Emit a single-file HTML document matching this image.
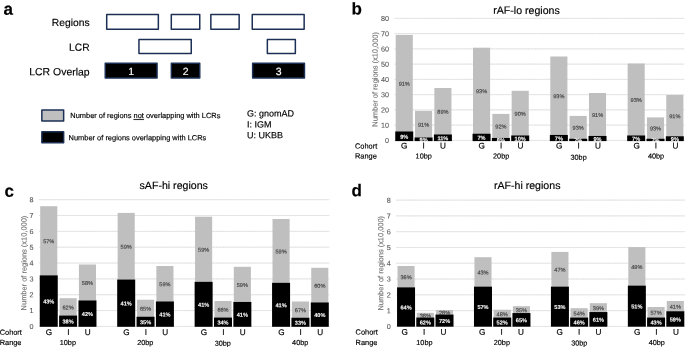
<!DOCTYPE html>
<html><head><meta charset="utf-8"><title>Figure</title>
<style>
html,body{margin:0;padding:0;background:#fff;}
body{width:685px;height:347px;overflow:hidden;}
svg{display:block;font-family:"Liberation Sans", Arial, sans-serif;}
</style></head><body>
<svg width="685" height="347" viewBox="0 0 685 347">
<rect x="0" y="0" width="685" height="347" fill="#ffffff"/>
<text x="3.50" y="14.85" transform="rotate(0.05,3.50,14.85)" font-size="17" fill="#000" stroke="#000" stroke-width="0.16" text-anchor="start" font-weight="bold" >a</text>
<text x="89.60" y="26.00" transform="rotate(0.05,89.60,26.00)" font-size="10.3" fill="#000" stroke="#000" stroke-width="0.16" text-anchor="end" font-weight="normal" >Regions</text>
<text x="89.60" y="50.80" transform="rotate(0.05,89.60,50.80)" font-size="10.3" fill="#000" stroke="#000" stroke-width="0.16" text-anchor="end" font-weight="normal" >LCR</text>
<text x="89.60" y="75.40" transform="rotate(0.05,89.60,75.40)" font-size="10.45" fill="#000" stroke="#000" stroke-width="0.16" text-anchor="end" font-weight="normal" >LCR Overlap</text>
<rect x="106.70" y="14.50" width="51.65" height="14.80" fill="#fff" stroke="#1c3055" stroke-width="1.5" stroke-linejoin="round"/>
<rect x="171.30" y="14.50" width="28.45" height="14.80" fill="#fff" stroke="#1c3055" stroke-width="1.5" stroke-linejoin="round"/>
<rect x="210.85" y="14.50" width="28.30" height="14.80" fill="#fff" stroke="#1c3055" stroke-width="1.5" stroke-linejoin="round"/>
<rect x="252.25" y="14.50" width="51.90" height="14.80" fill="#fff" stroke="#1c3055" stroke-width="1.5" stroke-linejoin="round"/>
<rect x="138.95" y="39.45" width="52.30" height="14.00" fill="#fff" stroke="#1c3055" stroke-width="1.5" stroke-linejoin="round"/>
<rect x="267.35" y="39.45" width="28.00" height="14.00" fill="#fff" stroke="#1c3055" stroke-width="1.5" stroke-linejoin="round"/>
<rect x="105.25" y="63.25" width="51.80" height="14.80" fill="#000" stroke="#1c3055" stroke-width="1.5" stroke-linejoin="round"/>
<text x="131.15" y="75.00" transform="rotate(0.05,131.15,75.00)" font-size="10.5" fill="#fff" stroke="#fff" stroke-width="0.16" text-anchor="middle" font-weight="normal" >1</text>
<rect x="171.35" y="63.25" width="28.40" height="14.80" fill="#000" stroke="#1c3055" stroke-width="1.5" stroke-linejoin="round"/>
<text x="185.55" y="75.00" transform="rotate(0.05,185.55,75.00)" font-size="10.5" fill="#fff" stroke="#fff" stroke-width="0.16" text-anchor="middle" font-weight="normal" >2</text>
<rect x="252.65" y="63.25" width="51.80" height="14.80" fill="#000" stroke="#1c3055" stroke-width="1.5" stroke-linejoin="round"/>
<text x="278.55" y="75.00" transform="rotate(0.05,278.55,75.00)" font-size="10.5" fill="#fff" stroke="#fff" stroke-width="0.16" text-anchor="middle" font-weight="normal" >3</text>
<rect x="41.85" y="110.05" width="21.80" height="11.00" fill="#bfbfbf" stroke="#1c3055" stroke-width="1.5" stroke-linejoin="round"/>
<rect x="41.85" y="131.75" width="21.80" height="11.00" fill="#000" stroke="#1c3055" stroke-width="1.5" stroke-linejoin="round"/>
<text x="70.30" y="118.00" transform="rotate(0.05,70.30,118.00)" font-size="7.45" fill="#000" stroke="#000" stroke-width="0.16" text-anchor="start" font-weight="normal" >Number of regions <tspan text-decoration="underline">not</tspan> overlapping with LCRs</text>
<text x="68.60" y="140.20" transform="rotate(0.05,68.60,140.20)" font-size="7.45" fill="#000" stroke="#000" stroke-width="0.16" text-anchor="start" font-weight="normal" >Number of regions overlapping with LCRs</text>
<text x="246.90" y="116.50" transform="rotate(0.05,246.90,116.50)" font-size="9" fill="#000" stroke="#000" stroke-width="0.16" text-anchor="start" font-weight="normal" >G: gnomAD</text>
<text x="246.90" y="127.45" transform="rotate(0.05,246.90,127.45)" font-size="9" fill="#000" stroke="#000" stroke-width="0.16" text-anchor="start" font-weight="normal" >I: IGM</text>
<text x="246.90" y="138.30" transform="rotate(0.05,246.90,138.30)" font-size="9" fill="#000" stroke="#000" stroke-width="0.16" text-anchor="start" font-weight="normal" >U: UKBB</text>
<text x="351.60" y="14.40" transform="rotate(0.05,351.60,14.40)" font-size="17" fill="#000" stroke="#000" stroke-width="0.16" text-anchor="start" font-weight="bold" >b</text>
<text x="526.50" y="13.90" transform="rotate(0.05,526.50,13.90)" font-size="10.6" fill="#000" stroke="#000" stroke-width="0.16" text-anchor="middle" font-weight="normal" >rAF-lo regions</text>
<line x1="394.60" x2="684.50" y1="140.40" y2="140.40" stroke="#e8e8e8" stroke-width="0.75"/>
<line x1="394.60" x2="684.50" y1="140.40" y2="140.40" stroke="#dedede" stroke-width="0.75" stroke-dasharray="2.2 0.7"/>
<text x="388.90" y="142.98" transform="rotate(0.05,388.90,142.98)" font-size="7.2" fill="#595959" stroke="#595959" stroke-width="0.1" text-anchor="end" font-weight="normal" >0</text>
<line x1="394.60" x2="684.50" y1="125.14" y2="125.14" stroke="#e8e8e8" stroke-width="0.75"/>
<line x1="394.60" x2="684.50" y1="125.14" y2="125.14" stroke="#dedede" stroke-width="0.75" stroke-dasharray="2.2 0.7"/>
<text x="388.90" y="127.72" transform="rotate(0.05,388.90,127.72)" font-size="7.2" fill="#595959" stroke="#595959" stroke-width="0.1" text-anchor="end" font-weight="normal" >10</text>
<line x1="394.60" x2="684.50" y1="109.89" y2="109.89" stroke="#e8e8e8" stroke-width="0.75"/>
<line x1="394.60" x2="684.50" y1="109.89" y2="109.89" stroke="#dedede" stroke-width="0.75" stroke-dasharray="2.2 0.7"/>
<text x="388.90" y="112.47" transform="rotate(0.05,388.90,112.47)" font-size="7.2" fill="#595959" stroke="#595959" stroke-width="0.1" text-anchor="end" font-weight="normal" >20</text>
<line x1="394.60" x2="684.50" y1="94.63" y2="94.63" stroke="#e8e8e8" stroke-width="0.75"/>
<line x1="394.60" x2="684.50" y1="94.63" y2="94.63" stroke="#dedede" stroke-width="0.75" stroke-dasharray="2.2 0.7"/>
<text x="388.90" y="97.21" transform="rotate(0.05,388.90,97.21)" font-size="7.2" fill="#595959" stroke="#595959" stroke-width="0.1" text-anchor="end" font-weight="normal" >30</text>
<line x1="394.60" x2="684.50" y1="79.38" y2="79.38" stroke="#e8e8e8" stroke-width="0.75"/>
<line x1="394.60" x2="684.50" y1="79.38" y2="79.38" stroke="#dedede" stroke-width="0.75" stroke-dasharray="2.2 0.7"/>
<text x="388.90" y="81.95" transform="rotate(0.05,388.90,81.95)" font-size="7.2" fill="#595959" stroke="#595959" stroke-width="0.1" text-anchor="end" font-weight="normal" >40</text>
<line x1="394.60" x2="684.50" y1="64.12" y2="64.12" stroke="#e8e8e8" stroke-width="0.75"/>
<line x1="394.60" x2="684.50" y1="64.12" y2="64.12" stroke="#dedede" stroke-width="0.75" stroke-dasharray="2.2 0.7"/>
<text x="388.90" y="66.70" transform="rotate(0.05,388.90,66.70)" font-size="7.2" fill="#595959" stroke="#595959" stroke-width="0.1" text-anchor="end" font-weight="normal" >50</text>
<line x1="394.60" x2="684.50" y1="48.86" y2="48.86" stroke="#e8e8e8" stroke-width="0.75"/>
<line x1="394.60" x2="684.50" y1="48.86" y2="48.86" stroke="#dedede" stroke-width="0.75" stroke-dasharray="2.2 0.7"/>
<text x="388.90" y="51.44" transform="rotate(0.05,388.90,51.44)" font-size="7.2" fill="#595959" stroke="#595959" stroke-width="0.1" text-anchor="end" font-weight="normal" >60</text>
<line x1="394.60" x2="684.50" y1="33.61" y2="33.61" stroke="#e8e8e8" stroke-width="0.75"/>
<line x1="394.60" x2="684.50" y1="33.61" y2="33.61" stroke="#dedede" stroke-width="0.75" stroke-dasharray="2.2 0.7"/>
<text x="388.90" y="36.19" transform="rotate(0.05,388.90,36.19)" font-size="7.2" fill="#595959" stroke="#595959" stroke-width="0.1" text-anchor="end" font-weight="normal" >70</text>
<line x1="394.60" x2="684.50" y1="18.35" y2="18.35" stroke="#e8e8e8" stroke-width="0.75"/>
<line x1="394.60" x2="684.50" y1="18.35" y2="18.35" stroke="#dedede" stroke-width="0.75" stroke-dasharray="2.2 0.7"/>
<text x="388.90" y="20.93" transform="rotate(0.05,388.90,20.93)" font-size="7.2" fill="#595959" stroke="#595959" stroke-width="0.1" text-anchor="end" font-weight="normal" >80</text>
<text transform="translate(377.60,79.38) rotate(-89.95)" font-size="7.45" fill="#727272" stroke="#727272" stroke-width="0.12" text-anchor="middle">Number of regions (x10,000)</text>
<rect x="395.70" y="34.90" width="17.10" height="96.80" fill="#bfbfbf"/>
<rect x="395.25" y="131.45" width="18.00" height="9.65" fill="#000"/>
<text x="404.25" y="85.70" transform="rotate(0.05,404.25,85.70)" font-size="5.6" fill="#404040" stroke="#404040" stroke-width="0.15" text-anchor="middle" font-weight="normal" >91%</text>
<text x="404.25" y="138.70" transform="rotate(0.05,404.25,138.70)" font-size="5.6" fill="#fff" stroke="#fff" stroke-width="0.1" text-anchor="middle" font-weight="bold" >9%</text>
<text x="404.30" y="148.60" transform="rotate(0.05,404.30,148.60)" font-size="8.2" fill="#000" stroke="#000" stroke-width="0.16" text-anchor="middle" font-weight="normal" >G</text>
<rect x="415.03" y="110.90" width="17.10" height="26.80" fill="#bfbfbf"/>
<rect x="414.58" y="137.45" width="18.00" height="3.65" fill="#000"/>
<text x="423.58" y="126.70" transform="rotate(0.05,423.58,126.70)" font-size="5.6" fill="#404040" stroke="#404040" stroke-width="0.15" text-anchor="middle" font-weight="normal" >91%</text>
<text x="423.58" y="141.70" transform="rotate(0.05,423.58,141.70)" font-size="5.6" fill="#fff" stroke="#fff" stroke-width="0.1" text-anchor="middle" font-weight="bold" >9%</text>
<text x="423.66" y="148.60" transform="rotate(0.05,423.66,148.60)" font-size="8.2" fill="#000" stroke="#000" stroke-width="0.16" text-anchor="middle" font-weight="normal" >I</text>
<rect x="434.35" y="88.00" width="17.10" height="46.70" fill="#bfbfbf"/>
<rect x="433.90" y="134.45" width="18.00" height="6.65" fill="#000"/>
<text x="442.90" y="113.75" transform="rotate(0.05,442.90,113.75)" font-size="5.6" fill="#404040" stroke="#404040" stroke-width="0.15" text-anchor="middle" font-weight="normal" >89%</text>
<text x="442.90" y="140.20" transform="rotate(0.05,442.90,140.20)" font-size="5.6" fill="#fff" stroke="#fff" stroke-width="0.1" text-anchor="middle" font-weight="bold" >11%</text>
<text x="443.02" y="148.60" transform="rotate(0.05,443.02,148.60)" font-size="8.2" fill="#000" stroke="#000" stroke-width="0.16" text-anchor="middle" font-weight="normal" >U</text>
<text x="423.70" y="158.60" transform="rotate(0.05,423.70,158.60)" font-size="7.3" fill="#000" stroke="#000" stroke-width="0.16" text-anchor="middle" font-weight="normal" >10bp</text>
<rect x="473.01" y="47.70" width="17.10" height="86.30" fill="#bfbfbf"/>
<rect x="472.56" y="133.75" width="18.00" height="7.35" fill="#000"/>
<text x="481.56" y="93.25" transform="rotate(0.05,481.56,93.25)" font-size="5.6" fill="#404040" stroke="#404040" stroke-width="0.15" text-anchor="middle" font-weight="normal" >93%</text>
<text x="481.56" y="139.85" transform="rotate(0.05,481.56,139.85)" font-size="5.6" fill="#fff" stroke="#fff" stroke-width="0.1" text-anchor="middle" font-weight="bold" >7%</text>
<text x="481.74" y="148.60" transform="rotate(0.05,481.74,148.60)" font-size="8.2" fill="#000" stroke="#000" stroke-width="0.16" text-anchor="middle" font-weight="normal" >G</text>
<rect x="492.33" y="113.90" width="17.10" height="24.30" fill="#bfbfbf"/>
<rect x="491.88" y="137.95" width="18.00" height="3.15" fill="#000"/>
<text x="500.88" y="128.45" transform="rotate(0.05,500.88,128.45)" font-size="5.6" fill="#404040" stroke="#404040" stroke-width="0.15" text-anchor="middle" font-weight="normal" >92%</text>
<text x="500.88" y="141.95" transform="rotate(0.05,500.88,141.95)" font-size="5.6" fill="#fff" stroke="#fff" stroke-width="0.1" text-anchor="middle" font-weight="bold" >8%</text>
<text x="501.10" y="148.60" transform="rotate(0.05,501.10,148.60)" font-size="8.2" fill="#000" stroke="#000" stroke-width="0.16" text-anchor="middle" font-weight="normal" >I</text>
<rect x="511.66" y="90.80" width="17.10" height="44.90" fill="#bfbfbf"/>
<rect x="511.21" y="135.45" width="18.00" height="5.65" fill="#000"/>
<text x="520.21" y="115.65" transform="rotate(0.05,520.21,115.65)" font-size="5.6" fill="#404040" stroke="#404040" stroke-width="0.15" text-anchor="middle" font-weight="normal" >90%</text>
<text x="520.21" y="140.70" transform="rotate(0.05,520.21,140.70)" font-size="5.6" fill="#fff" stroke="#fff" stroke-width="0.1" text-anchor="middle" font-weight="bold" >10%</text>
<text x="520.46" y="148.60" transform="rotate(0.05,520.46,148.60)" font-size="8.2" fill="#000" stroke="#000" stroke-width="0.16" text-anchor="middle" font-weight="normal" >U</text>
<text x="501.15" y="158.60" transform="rotate(0.05,501.15,158.60)" font-size="7.3" fill="#000" stroke="#000" stroke-width="0.16" text-anchor="middle" font-weight="normal" >20bp</text>
<rect x="550.31" y="56.50" width="17.10" height="78.70" fill="#bfbfbf"/>
<rect x="549.86" y="134.95" width="18.00" height="6.15" fill="#000"/>
<text x="558.86" y="98.25" transform="rotate(0.05,558.86,98.25)" font-size="5.6" fill="#404040" stroke="#404040" stroke-width="0.15" text-anchor="middle" font-weight="normal" >93%</text>
<text x="558.86" y="140.45" transform="rotate(0.05,558.86,140.45)" font-size="5.6" fill="#fff" stroke="#fff" stroke-width="0.1" text-anchor="middle" font-weight="bold" >7%</text>
<text x="559.18" y="148.60" transform="rotate(0.05,559.18,148.60)" font-size="8.2" fill="#000" stroke="#000" stroke-width="0.16" text-anchor="middle" font-weight="normal" >G</text>
<rect x="569.64" y="115.90" width="17.10" height="23.10" fill="#bfbfbf"/>
<rect x="569.19" y="138.75" width="18.00" height="2.35" fill="#000"/>
<text x="578.19" y="129.85" transform="rotate(0.05,578.19,129.85)" font-size="5.6" fill="#404040" stroke="#404040" stroke-width="0.15" text-anchor="middle" font-weight="normal" >93%</text>
<text x="578.19" y="142.35" transform="rotate(0.05,578.19,142.35)" font-size="5.6" fill="#fff" stroke="#fff" stroke-width="0.1" text-anchor="middle" font-weight="bold" >7%</text>
<text x="578.54" y="148.60" transform="rotate(0.05,578.54,148.60)" font-size="8.2" fill="#000" stroke="#000" stroke-width="0.16" text-anchor="middle" font-weight="normal" >I</text>
<rect x="588.97" y="93.00" width="17.10" height="43.20" fill="#bfbfbf"/>
<rect x="588.52" y="135.95" width="18.00" height="5.15" fill="#000"/>
<text x="597.52" y="117.00" transform="rotate(0.05,597.52,117.00)" font-size="5.6" fill="#404040" stroke="#404040" stroke-width="0.15" text-anchor="middle" font-weight="normal" >91%</text>
<text x="597.52" y="140.95" transform="rotate(0.05,597.52,140.95)" font-size="5.6" fill="#fff" stroke="#fff" stroke-width="0.1" text-anchor="middle" font-weight="bold" >9%</text>
<text x="597.90" y="148.60" transform="rotate(0.05,597.90,148.60)" font-size="8.2" fill="#000" stroke="#000" stroke-width="0.16" text-anchor="middle" font-weight="normal" >U</text>
<text x="578.60" y="159.80" transform="rotate(0.05,578.60,159.80)" font-size="7.3" fill="#000" stroke="#000" stroke-width="0.16" text-anchor="middle" font-weight="normal" >30bp</text>
<rect x="627.62" y="63.50" width="17.10" height="72.20" fill="#bfbfbf"/>
<rect x="627.17" y="135.45" width="18.00" height="5.65" fill="#000"/>
<text x="636.17" y="102.00" transform="rotate(0.05,636.17,102.00)" font-size="5.6" fill="#404040" stroke="#404040" stroke-width="0.15" text-anchor="middle" font-weight="normal" >93%</text>
<text x="636.17" y="140.70" transform="rotate(0.05,636.17,140.70)" font-size="5.6" fill="#fff" stroke="#fff" stroke-width="0.1" text-anchor="middle" font-weight="bold" >7%</text>
<text x="636.62" y="148.60" transform="rotate(0.05,636.62,148.60)" font-size="8.2" fill="#000" stroke="#000" stroke-width="0.16" text-anchor="middle" font-weight="normal" >G</text>
<rect x="646.95" y="117.40" width="17.10" height="21.60" fill="#bfbfbf"/>
<rect x="646.50" y="138.75" width="18.00" height="2.35" fill="#000"/>
<text x="655.50" y="130.60" transform="rotate(0.05,655.50,130.60)" font-size="5.6" fill="#404040" stroke="#404040" stroke-width="0.15" text-anchor="middle" font-weight="normal" >93%</text>
<text x="655.50" y="142.35" transform="rotate(0.05,655.50,142.35)" font-size="5.6" fill="#fff" stroke="#fff" stroke-width="0.1" text-anchor="middle" font-weight="bold" >7%</text>
<text x="655.98" y="148.60" transform="rotate(0.05,655.98,148.60)" font-size="8.2" fill="#000" stroke="#000" stroke-width="0.16" text-anchor="middle" font-weight="normal" >I</text>
<rect x="666.27" y="95.00" width="17.10" height="41.50" fill="#bfbfbf"/>
<rect x="665.82" y="136.25" width="18.00" height="4.85" fill="#000"/>
<text x="674.82" y="118.15" transform="rotate(0.05,674.82,118.15)" font-size="5.6" fill="#404040" stroke="#404040" stroke-width="0.15" text-anchor="middle" font-weight="normal" >91%</text>
<text x="674.82" y="141.10" transform="rotate(0.05,674.82,141.10)" font-size="5.6" fill="#fff" stroke="#fff" stroke-width="0.1" text-anchor="middle" font-weight="bold" >9%</text>
<text x="675.34" y="148.60" transform="rotate(0.05,675.34,148.60)" font-size="8.2" fill="#000" stroke="#000" stroke-width="0.16" text-anchor="middle" font-weight="normal" >U</text>
<text x="656.05" y="158.60" transform="rotate(0.05,656.05,158.60)" font-size="7.3" fill="#000" stroke="#000" stroke-width="0.16" text-anchor="middle" font-weight="normal" >40bp</text>
<text x="355.00" y="148.40" transform="rotate(0.05,355.00,148.40)" font-size="7.4" fill="#000" stroke="#000" stroke-width="0.16" text-anchor="start" font-weight="normal" >Cohort</text>
<text x="355.00" y="158.60" transform="rotate(0.05,355.00,158.60)" font-size="7.4" fill="#000" stroke="#000" stroke-width="0.16" text-anchor="start" font-weight="normal" >Range</text>
<text x="4.40" y="196.70" transform="rotate(0.05,4.40,196.70)" font-size="17" fill="#000" stroke="#000" stroke-width="0.16" text-anchor="start" font-weight="bold" >c</text>
<text x="173.70" y="189.00" transform="rotate(0.05,173.70,189.00)" font-size="10.6" fill="#000" stroke="#000" stroke-width="0.16" text-anchor="middle" font-weight="normal" >sAF-hi regions</text>
<line x1="39.10" x2="329.50" y1="326.40" y2="326.40" stroke="#e8e8e8" stroke-width="0.75"/>
<line x1="39.10" x2="329.50" y1="326.40" y2="326.40" stroke="#dedede" stroke-width="0.75" stroke-dasharray="2.2 0.7"/>
<text x="33.40" y="328.98" transform="rotate(0.05,33.40,328.98)" font-size="7.2" fill="#595959" stroke="#595959" stroke-width="0.1" text-anchor="end" font-weight="normal" >0</text>
<line x1="39.10" x2="329.50" y1="310.56" y2="310.56" stroke="#e8e8e8" stroke-width="0.75"/>
<line x1="39.10" x2="329.50" y1="310.56" y2="310.56" stroke="#dedede" stroke-width="0.75" stroke-dasharray="2.2 0.7"/>
<text x="33.40" y="313.14" transform="rotate(0.05,33.40,313.14)" font-size="7.2" fill="#595959" stroke="#595959" stroke-width="0.1" text-anchor="end" font-weight="normal" >1</text>
<line x1="39.10" x2="329.50" y1="294.72" y2="294.72" stroke="#e8e8e8" stroke-width="0.75"/>
<line x1="39.10" x2="329.50" y1="294.72" y2="294.72" stroke="#dedede" stroke-width="0.75" stroke-dasharray="2.2 0.7"/>
<text x="33.40" y="297.30" transform="rotate(0.05,33.40,297.30)" font-size="7.2" fill="#595959" stroke="#595959" stroke-width="0.1" text-anchor="end" font-weight="normal" >2</text>
<line x1="39.10" x2="329.50" y1="278.89" y2="278.89" stroke="#e8e8e8" stroke-width="0.75"/>
<line x1="39.10" x2="329.50" y1="278.89" y2="278.89" stroke="#dedede" stroke-width="0.75" stroke-dasharray="2.2 0.7"/>
<text x="33.40" y="281.47" transform="rotate(0.05,33.40,281.47)" font-size="7.2" fill="#595959" stroke="#595959" stroke-width="0.1" text-anchor="end" font-weight="normal" >3</text>
<line x1="39.10" x2="329.50" y1="263.05" y2="263.05" stroke="#e8e8e8" stroke-width="0.75"/>
<line x1="39.10" x2="329.50" y1="263.05" y2="263.05" stroke="#dedede" stroke-width="0.75" stroke-dasharray="2.2 0.7"/>
<text x="33.40" y="265.63" transform="rotate(0.05,33.40,265.63)" font-size="7.2" fill="#595959" stroke="#595959" stroke-width="0.1" text-anchor="end" font-weight="normal" >4</text>
<line x1="39.10" x2="329.50" y1="247.21" y2="247.21" stroke="#e8e8e8" stroke-width="0.75"/>
<line x1="39.10" x2="329.50" y1="247.21" y2="247.21" stroke="#dedede" stroke-width="0.75" stroke-dasharray="2.2 0.7"/>
<text x="33.40" y="249.79" transform="rotate(0.05,33.40,249.79)" font-size="7.2" fill="#595959" stroke="#595959" stroke-width="0.1" text-anchor="end" font-weight="normal" >5</text>
<line x1="39.10" x2="329.50" y1="231.38" y2="231.38" stroke="#e8e8e8" stroke-width="0.75"/>
<line x1="39.10" x2="329.50" y1="231.38" y2="231.38" stroke="#dedede" stroke-width="0.75" stroke-dasharray="2.2 0.7"/>
<text x="33.40" y="233.96" transform="rotate(0.05,33.40,233.96)" font-size="7.2" fill="#595959" stroke="#595959" stroke-width="0.1" text-anchor="end" font-weight="normal" >6</text>
<line x1="39.10" x2="329.50" y1="215.54" y2="215.54" stroke="#e8e8e8" stroke-width="0.75"/>
<line x1="39.10" x2="329.50" y1="215.54" y2="215.54" stroke="#dedede" stroke-width="0.75" stroke-dasharray="2.2 0.7"/>
<text x="33.40" y="218.12" transform="rotate(0.05,33.40,218.12)" font-size="7.2" fill="#595959" stroke="#595959" stroke-width="0.1" text-anchor="end" font-weight="normal" >7</text>
<line x1="39.10" x2="329.50" y1="199.70" y2="199.70" stroke="#e8e8e8" stroke-width="0.75"/>
<line x1="39.10" x2="329.50" y1="199.70" y2="199.70" stroke="#dedede" stroke-width="0.75" stroke-dasharray="2.2 0.7"/>
<text x="33.40" y="202.28" transform="rotate(0.05,33.40,202.28)" font-size="7.2" fill="#595959" stroke="#595959" stroke-width="0.1" text-anchor="end" font-weight="normal" >8</text>
<text transform="translate(26.40,263.05) rotate(-89.95)" font-size="7.45" fill="#727272" stroke="#727272" stroke-width="0.12" text-anchor="middle">Number of regions (x10,000)</text>
<rect x="40.20" y="206.20" width="17.10" height="69.40" fill="#bfbfbf"/>
<rect x="39.75" y="275.35" width="18.00" height="51.45" fill="#000"/>
<text x="48.75" y="243.30" transform="rotate(0.05,48.75,243.30)" font-size="5.6" fill="#404040" stroke="#404040" stroke-width="0.15" text-anchor="middle" font-weight="normal" >57%</text>
<text x="48.75" y="303.50" transform="rotate(0.05,48.75,303.50)" font-size="5.6" fill="#fff" stroke="#fff" stroke-width="0.1" text-anchor="middle" font-weight="bold" >43%</text>
<text x="49.05" y="335.00" transform="rotate(0.05,49.05,335.00)" font-size="8.2" fill="#000" stroke="#000" stroke-width="0.16" text-anchor="middle" font-weight="normal" >G</text>
<rect x="59.56" y="298.20" width="17.10" height="17.60" fill="#bfbfbf"/>
<rect x="59.11" y="315.55" width="18.00" height="11.25" fill="#000"/>
<text x="68.11" y="309.40" transform="rotate(0.05,68.11,309.40)" font-size="5.6" fill="#404040" stroke="#404040" stroke-width="0.15" text-anchor="middle" font-weight="normal" >62%</text>
<text x="68.11" y="323.60" transform="rotate(0.05,68.11,323.60)" font-size="5.6" fill="#fff" stroke="#fff" stroke-width="0.1" text-anchor="middle" font-weight="bold" >38%</text>
<text x="68.41" y="335.00" transform="rotate(0.05,68.41,335.00)" font-size="8.2" fill="#000" stroke="#000" stroke-width="0.16" text-anchor="middle" font-weight="normal" >I</text>
<rect x="78.92" y="264.50" width="17.10" height="36.20" fill="#bfbfbf"/>
<rect x="78.47" y="300.45" width="18.00" height="26.35" fill="#000"/>
<text x="87.47" y="285.00" transform="rotate(0.05,87.47,285.00)" font-size="5.6" fill="#404040" stroke="#404040" stroke-width="0.15" text-anchor="middle" font-weight="normal" >58%</text>
<text x="87.47" y="316.05" transform="rotate(0.05,87.47,316.05)" font-size="5.6" fill="#fff" stroke="#fff" stroke-width="0.1" text-anchor="middle" font-weight="bold" >42%</text>
<text x="87.77" y="335.00" transform="rotate(0.05,87.77,335.00)" font-size="8.2" fill="#000" stroke="#000" stroke-width="0.16" text-anchor="middle" font-weight="normal" >U</text>
<text x="67.85" y="344.90" transform="rotate(0.05,67.85,344.90)" font-size="7.3" fill="#000" stroke="#000" stroke-width="0.16" text-anchor="middle" font-weight="normal" >10bp</text>
<rect x="117.64" y="212.90" width="17.10" height="66.90" fill="#bfbfbf"/>
<rect x="117.19" y="279.55" width="18.00" height="47.25" fill="#000"/>
<text x="126.19" y="248.75" transform="rotate(0.05,126.19,248.75)" font-size="5.6" fill="#404040" stroke="#404040" stroke-width="0.15" text-anchor="middle" font-weight="normal" >59%</text>
<text x="126.19" y="305.60" transform="rotate(0.05,126.19,305.60)" font-size="5.6" fill="#fff" stroke="#fff" stroke-width="0.1" text-anchor="middle" font-weight="bold" >41%</text>
<text x="126.49" y="335.00" transform="rotate(0.05,126.49,335.00)" font-size="8.2" fill="#000" stroke="#000" stroke-width="0.16" text-anchor="middle" font-weight="normal" >G</text>
<rect x="137.00" y="299.70" width="17.10" height="17.30" fill="#bfbfbf"/>
<rect x="136.55" y="316.75" width="18.00" height="10.05" fill="#000"/>
<text x="145.55" y="310.75" transform="rotate(0.05,145.55,310.75)" font-size="5.6" fill="#404040" stroke="#404040" stroke-width="0.15" text-anchor="middle" font-weight="normal" >65%</text>
<text x="145.55" y="324.20" transform="rotate(0.05,145.55,324.20)" font-size="5.6" fill="#fff" stroke="#fff" stroke-width="0.1" text-anchor="middle" font-weight="bold" >35%</text>
<text x="145.85" y="335.00" transform="rotate(0.05,145.85,335.00)" font-size="8.2" fill="#000" stroke="#000" stroke-width="0.16" text-anchor="middle" font-weight="normal" >I</text>
<rect x="156.36" y="266.00" width="17.10" height="35.70" fill="#bfbfbf"/>
<rect x="155.91" y="301.45" width="18.00" height="25.35" fill="#000"/>
<text x="164.91" y="286.25" transform="rotate(0.05,164.91,286.25)" font-size="5.6" fill="#404040" stroke="#404040" stroke-width="0.15" text-anchor="middle" font-weight="normal" >59%</text>
<text x="164.91" y="316.55" transform="rotate(0.05,164.91,316.55)" font-size="5.6" fill="#fff" stroke="#fff" stroke-width="0.1" text-anchor="middle" font-weight="bold" >41%</text>
<text x="165.21" y="335.00" transform="rotate(0.05,165.21,335.00)" font-size="8.2" fill="#000" stroke="#000" stroke-width="0.16" text-anchor="middle" font-weight="normal" >U</text>
<text x="145.30" y="344.90" transform="rotate(0.05,145.30,344.90)" font-size="7.3" fill="#000" stroke="#000" stroke-width="0.16" text-anchor="middle" font-weight="normal" >20bp</text>
<rect x="195.08" y="216.70" width="17.10" height="65.40" fill="#bfbfbf"/>
<rect x="194.63" y="281.85" width="18.00" height="44.95" fill="#000"/>
<text x="203.63" y="251.80" transform="rotate(0.05,203.63,251.80)" font-size="5.6" fill="#404040" stroke="#404040" stroke-width="0.15" text-anchor="middle" font-weight="normal" >59%</text>
<text x="203.63" y="306.75" transform="rotate(0.05,203.63,306.75)" font-size="5.6" fill="#fff" stroke="#fff" stroke-width="0.1" text-anchor="middle" font-weight="bold" >41%</text>
<text x="203.93" y="335.00" transform="rotate(0.05,203.93,335.00)" font-size="8.2" fill="#000" stroke="#000" stroke-width="0.16" text-anchor="middle" font-weight="normal" >G</text>
<rect x="214.44" y="301.00" width="17.10" height="16.80" fill="#bfbfbf"/>
<rect x="213.99" y="317.55" width="18.00" height="9.25" fill="#000"/>
<text x="222.99" y="311.80" transform="rotate(0.05,222.99,311.80)" font-size="5.6" fill="#404040" stroke="#404040" stroke-width="0.15" text-anchor="middle" font-weight="normal" >66%</text>
<text x="222.99" y="324.60" transform="rotate(0.05,222.99,324.60)" font-size="5.6" fill="#fff" stroke="#fff" stroke-width="0.1" text-anchor="middle" font-weight="bold" >34%</text>
<text x="223.29" y="335.00" transform="rotate(0.05,223.29,335.00)" font-size="8.2" fill="#000" stroke="#000" stroke-width="0.16" text-anchor="middle" font-weight="normal" >I</text>
<rect x="233.80" y="266.80" width="17.10" height="35.40" fill="#bfbfbf"/>
<rect x="233.35" y="301.95" width="18.00" height="24.85" fill="#000"/>
<text x="242.35" y="286.90" transform="rotate(0.05,242.35,286.90)" font-size="5.6" fill="#404040" stroke="#404040" stroke-width="0.15" text-anchor="middle" font-weight="normal" >59%</text>
<text x="242.35" y="316.80" transform="rotate(0.05,242.35,316.80)" font-size="5.6" fill="#fff" stroke="#fff" stroke-width="0.1" text-anchor="middle" font-weight="bold" >41%</text>
<text x="242.65" y="335.00" transform="rotate(0.05,242.65,335.00)" font-size="8.2" fill="#000" stroke="#000" stroke-width="0.16" text-anchor="middle" font-weight="normal" >U</text>
<text x="222.75" y="345.70" transform="rotate(0.05,222.75,345.70)" font-size="7.3" fill="#000" stroke="#000" stroke-width="0.16" text-anchor="middle" font-weight="normal" >30bp</text>
<rect x="272.52" y="219.00" width="17.10" height="64.10" fill="#bfbfbf"/>
<rect x="272.07" y="282.85" width="18.00" height="43.95" fill="#000"/>
<text x="281.07" y="253.45" transform="rotate(0.05,281.07,253.45)" font-size="5.6" fill="#404040" stroke="#404040" stroke-width="0.15" text-anchor="middle" font-weight="normal" >59%</text>
<text x="281.07" y="307.25" transform="rotate(0.05,281.07,307.25)" font-size="5.6" fill="#fff" stroke="#fff" stroke-width="0.1" text-anchor="middle" font-weight="bold" >41%</text>
<text x="281.37" y="335.00" transform="rotate(0.05,281.37,335.00)" font-size="8.2" fill="#000" stroke="#000" stroke-width="0.16" text-anchor="middle" font-weight="normal" >G</text>
<rect x="291.88" y="301.50" width="17.10" height="16.50" fill="#bfbfbf"/>
<rect x="291.43" y="317.75" width="18.00" height="9.05" fill="#000"/>
<text x="300.43" y="312.15" transform="rotate(0.05,300.43,312.15)" font-size="5.6" fill="#404040" stroke="#404040" stroke-width="0.15" text-anchor="middle" font-weight="normal" >67%</text>
<text x="300.43" y="324.70" transform="rotate(0.05,300.43,324.70)" font-size="5.6" fill="#fff" stroke="#fff" stroke-width="0.1" text-anchor="middle" font-weight="bold" >33%</text>
<text x="300.73" y="335.00" transform="rotate(0.05,300.73,335.00)" font-size="8.2" fill="#000" stroke="#000" stroke-width="0.16" text-anchor="middle" font-weight="normal" >I</text>
<rect x="311.24" y="267.80" width="17.10" height="34.90" fill="#bfbfbf"/>
<rect x="310.79" y="302.45" width="18.00" height="24.35" fill="#000"/>
<text x="319.79" y="287.65" transform="rotate(0.05,319.79,287.65)" font-size="5.6" fill="#404040" stroke="#404040" stroke-width="0.15" text-anchor="middle" font-weight="normal" >60%</text>
<text x="319.79" y="317.05" transform="rotate(0.05,319.79,317.05)" font-size="5.6" fill="#fff" stroke="#fff" stroke-width="0.1" text-anchor="middle" font-weight="bold" >40%</text>
<text x="320.09" y="335.00" transform="rotate(0.05,320.09,335.00)" font-size="8.2" fill="#000" stroke="#000" stroke-width="0.16" text-anchor="middle" font-weight="normal" >U</text>
<text x="300.20" y="344.90" transform="rotate(0.05,300.20,344.90)" font-size="7.3" fill="#000" stroke="#000" stroke-width="0.16" text-anchor="middle" font-weight="normal" >40bp</text>
<text x="-0.30" y="334.80" transform="rotate(0.05,-0.30,334.80)" font-size="7.4" fill="#000" stroke="#000" stroke-width="0.16" text-anchor="start" font-weight="normal" >Cohort</text>
<text x="-0.30" y="344.90" transform="rotate(0.05,-0.30,344.90)" font-size="7.4" fill="#000" stroke="#000" stroke-width="0.16" text-anchor="start" font-weight="normal" >Range</text>
<text x="351.60" y="196.20" transform="rotate(0.05,351.60,196.20)" font-size="17" fill="#000" stroke="#000" stroke-width="0.16" text-anchor="start" font-weight="bold" >d</text>
<text x="527.20" y="189.00" transform="rotate(0.05,527.20,189.00)" font-size="10.6" fill="#000" stroke="#000" stroke-width="0.16" text-anchor="middle" font-weight="normal" >rAF-hi regions</text>
<line x1="396.40" x2="684.90" y1="326.40" y2="326.40" stroke="#e8e8e8" stroke-width="0.75"/>
<line x1="396.40" x2="684.90" y1="326.40" y2="326.40" stroke="#dedede" stroke-width="0.75" stroke-dasharray="2.2 0.7"/>
<text x="390.70" y="328.98" transform="rotate(0.05,390.70,328.98)" font-size="7.2" fill="#595959" stroke="#595959" stroke-width="0.1" text-anchor="end" font-weight="normal" >0</text>
<line x1="396.40" x2="684.90" y1="310.61" y2="310.61" stroke="#e8e8e8" stroke-width="0.75"/>
<line x1="396.40" x2="684.90" y1="310.61" y2="310.61" stroke="#dedede" stroke-width="0.75" stroke-dasharray="2.2 0.7"/>
<text x="390.70" y="313.19" transform="rotate(0.05,390.70,313.19)" font-size="7.2" fill="#595959" stroke="#595959" stroke-width="0.1" text-anchor="end" font-weight="normal" >1</text>
<line x1="396.40" x2="684.90" y1="294.82" y2="294.82" stroke="#e8e8e8" stroke-width="0.75"/>
<line x1="396.40" x2="684.90" y1="294.82" y2="294.82" stroke="#dedede" stroke-width="0.75" stroke-dasharray="2.2 0.7"/>
<text x="390.70" y="297.40" transform="rotate(0.05,390.70,297.40)" font-size="7.2" fill="#595959" stroke="#595959" stroke-width="0.1" text-anchor="end" font-weight="normal" >2</text>
<line x1="396.40" x2="684.90" y1="279.04" y2="279.04" stroke="#e8e8e8" stroke-width="0.75"/>
<line x1="396.40" x2="684.90" y1="279.04" y2="279.04" stroke="#dedede" stroke-width="0.75" stroke-dasharray="2.2 0.7"/>
<text x="390.70" y="281.62" transform="rotate(0.05,390.70,281.62)" font-size="7.2" fill="#595959" stroke="#595959" stroke-width="0.1" text-anchor="end" font-weight="normal" >3</text>
<line x1="396.40" x2="684.90" y1="263.25" y2="263.25" stroke="#e8e8e8" stroke-width="0.75"/>
<line x1="396.40" x2="684.90" y1="263.25" y2="263.25" stroke="#dedede" stroke-width="0.75" stroke-dasharray="2.2 0.7"/>
<text x="390.70" y="265.83" transform="rotate(0.05,390.70,265.83)" font-size="7.2" fill="#595959" stroke="#595959" stroke-width="0.1" text-anchor="end" font-weight="normal" >4</text>
<line x1="396.40" x2="684.90" y1="247.46" y2="247.46" stroke="#e8e8e8" stroke-width="0.75"/>
<line x1="396.40" x2="684.90" y1="247.46" y2="247.46" stroke="#dedede" stroke-width="0.75" stroke-dasharray="2.2 0.7"/>
<text x="390.70" y="250.04" transform="rotate(0.05,390.70,250.04)" font-size="7.2" fill="#595959" stroke="#595959" stroke-width="0.1" text-anchor="end" font-weight="normal" >5</text>
<line x1="396.40" x2="684.90" y1="231.67" y2="231.67" stroke="#e8e8e8" stroke-width="0.75"/>
<line x1="396.40" x2="684.90" y1="231.67" y2="231.67" stroke="#dedede" stroke-width="0.75" stroke-dasharray="2.2 0.7"/>
<text x="390.70" y="234.25" transform="rotate(0.05,390.70,234.25)" font-size="7.2" fill="#595959" stroke="#595959" stroke-width="0.1" text-anchor="end" font-weight="normal" >6</text>
<line x1="396.40" x2="684.90" y1="215.89" y2="215.89" stroke="#e8e8e8" stroke-width="0.75"/>
<line x1="396.40" x2="684.90" y1="215.89" y2="215.89" stroke="#dedede" stroke-width="0.75" stroke-dasharray="2.2 0.7"/>
<text x="390.70" y="218.47" transform="rotate(0.05,390.70,218.47)" font-size="7.2" fill="#595959" stroke="#595959" stroke-width="0.1" text-anchor="end" font-weight="normal" >7</text>
<line x1="396.40" x2="684.90" y1="200.10" y2="200.10" stroke="#e8e8e8" stroke-width="0.75"/>
<line x1="396.40" x2="684.90" y1="200.10" y2="200.10" stroke="#dedede" stroke-width="0.75" stroke-dasharray="2.2 0.7"/>
<text x="390.70" y="202.68" transform="rotate(0.05,390.70,202.68)" font-size="7.2" fill="#595959" stroke="#595959" stroke-width="0.1" text-anchor="end" font-weight="normal" >8</text>
<text transform="translate(383.20,263.25) rotate(-89.95)" font-size="7.45" fill="#727272" stroke="#727272" stroke-width="0.12" text-anchor="middle">Number of regions (x10,000)</text>
<rect x="397.50" y="266.00" width="17.10" height="21.60" fill="#bfbfbf"/>
<rect x="397.05" y="287.35" width="18.00" height="39.35" fill="#000"/>
<text x="406.05" y="279.20" transform="rotate(0.05,406.05,279.20)" font-size="5.6" fill="#404040" stroke="#404040" stroke-width="0.15" text-anchor="middle" font-weight="normal" >36%</text>
<text x="406.05" y="309.45" transform="rotate(0.05,406.05,309.45)" font-size="5.6" fill="#fff" stroke="#fff" stroke-width="0.1" text-anchor="middle" font-weight="bold" >64%</text>
<text x="404.80" y="334.80" transform="rotate(0.05,404.80,334.80)" font-size="8.2" fill="#000" stroke="#000" stroke-width="0.16" text-anchor="middle" font-weight="normal" >G</text>
<rect x="416.73" y="312.80" width="17.10" height="5.00" fill="#bfbfbf"/>
<rect x="416.28" y="317.55" width="18.00" height="9.15" fill="#000"/>
<text x="425.28" y="317.70" transform="rotate(0.05,425.28,317.70)" font-size="5.6" fill="#404040" stroke="#404040" stroke-width="0.15" text-anchor="middle" font-weight="normal" >38%</text>
<text x="425.28" y="324.55" transform="rotate(0.05,425.28,324.55)" font-size="5.6" fill="#fff" stroke="#fff" stroke-width="0.1" text-anchor="middle" font-weight="bold" >62%</text>
<text x="424.16" y="334.80" transform="rotate(0.05,424.16,334.80)" font-size="8.2" fill="#000" stroke="#000" stroke-width="0.16" text-anchor="middle" font-weight="normal" >I</text>
<rect x="435.97" y="310.00" width="17.10" height="4.80" fill="#bfbfbf"/>
<rect x="435.52" y="314.55" width="18.00" height="12.15" fill="#000"/>
<text x="444.52" y="314.80" transform="rotate(0.05,444.52,314.80)" font-size="5.6" fill="#404040" stroke="#404040" stroke-width="0.15" text-anchor="middle" font-weight="normal" >28%</text>
<text x="444.52" y="323.05" transform="rotate(0.05,444.52,323.05)" font-size="5.6" fill="#fff" stroke="#fff" stroke-width="0.1" text-anchor="middle" font-weight="bold" >72%</text>
<text x="443.52" y="334.80" transform="rotate(0.05,443.52,334.80)" font-size="8.2" fill="#000" stroke="#000" stroke-width="0.16" text-anchor="middle" font-weight="normal" >U</text>
<text x="424.40" y="344.90" transform="rotate(0.05,424.40,344.90)" font-size="7.3" fill="#000" stroke="#000" stroke-width="0.16" text-anchor="middle" font-weight="normal" >10bp</text>
<rect x="474.43" y="257.20" width="17.10" height="29.70" fill="#bfbfbf"/>
<rect x="473.98" y="286.65" width="18.00" height="40.05" fill="#000"/>
<text x="482.98" y="274.45" transform="rotate(0.05,482.98,274.45)" font-size="5.6" fill="#404040" stroke="#404040" stroke-width="0.15" text-anchor="middle" font-weight="normal" >43%</text>
<text x="482.98" y="309.10" transform="rotate(0.05,482.98,309.10)" font-size="5.6" fill="#fff" stroke="#fff" stroke-width="0.1" text-anchor="middle" font-weight="bold" >57%</text>
<text x="482.24" y="334.80" transform="rotate(0.05,482.24,334.80)" font-size="8.2" fill="#000" stroke="#000" stroke-width="0.16" text-anchor="middle" font-weight="normal" >G</text>
<rect x="493.67" y="309.70" width="17.10" height="8.10" fill="#bfbfbf"/>
<rect x="493.22" y="317.55" width="18.00" height="9.15" fill="#000"/>
<text x="502.22" y="316.15" transform="rotate(0.05,502.22,316.15)" font-size="5.6" fill="#404040" stroke="#404040" stroke-width="0.15" text-anchor="middle" font-weight="normal" >48%</text>
<text x="502.22" y="324.55" transform="rotate(0.05,502.22,324.55)" font-size="5.6" fill="#fff" stroke="#fff" stroke-width="0.1" text-anchor="middle" font-weight="bold" >52%</text>
<text x="501.60" y="334.80" transform="rotate(0.05,501.60,334.80)" font-size="8.2" fill="#000" stroke="#000" stroke-width="0.16" text-anchor="middle" font-weight="normal" >I</text>
<rect x="512.90" y="306.20" width="17.10" height="7.10" fill="#bfbfbf"/>
<rect x="512.45" y="313.05" width="18.00" height="13.65" fill="#000"/>
<text x="521.45" y="312.15" transform="rotate(0.05,521.45,312.15)" font-size="5.6" fill="#404040" stroke="#404040" stroke-width="0.15" text-anchor="middle" font-weight="normal" >35%</text>
<text x="521.45" y="322.30" transform="rotate(0.05,521.45,322.30)" font-size="5.6" fill="#fff" stroke="#fff" stroke-width="0.1" text-anchor="middle" font-weight="bold" >65%</text>
<text x="520.96" y="334.80" transform="rotate(0.05,520.96,334.80)" font-size="8.2" fill="#000" stroke="#000" stroke-width="0.16" text-anchor="middle" font-weight="normal" >U</text>
<text x="501.85" y="344.90" transform="rotate(0.05,501.85,344.90)" font-size="7.3" fill="#000" stroke="#000" stroke-width="0.16" text-anchor="middle" font-weight="normal" >20bp</text>
<rect x="551.37" y="251.90" width="17.10" height="35.00" fill="#bfbfbf"/>
<rect x="550.92" y="286.65" width="18.00" height="40.05" fill="#000"/>
<text x="559.92" y="271.80" transform="rotate(0.05,559.92,271.80)" font-size="5.6" fill="#404040" stroke="#404040" stroke-width="0.15" text-anchor="middle" font-weight="normal" >47%</text>
<text x="559.92" y="309.10" transform="rotate(0.05,559.92,309.10)" font-size="5.6" fill="#fff" stroke="#fff" stroke-width="0.1" text-anchor="middle" font-weight="bold" >53%</text>
<text x="559.68" y="334.80" transform="rotate(0.05,559.68,334.80)" font-size="8.2" fill="#000" stroke="#000" stroke-width="0.16" text-anchor="middle" font-weight="normal" >G</text>
<rect x="570.60" y="308.20" width="17.10" height="9.60" fill="#bfbfbf"/>
<rect x="570.15" y="317.55" width="18.00" height="9.15" fill="#000"/>
<text x="579.15" y="315.40" transform="rotate(0.05,579.15,315.40)" font-size="5.6" fill="#404040" stroke="#404040" stroke-width="0.15" text-anchor="middle" font-weight="normal" >54%</text>
<text x="579.15" y="324.55" transform="rotate(0.05,579.15,324.55)" font-size="5.6" fill="#fff" stroke="#fff" stroke-width="0.1" text-anchor="middle" font-weight="bold" >46%</text>
<text x="579.04" y="334.80" transform="rotate(0.05,579.04,334.80)" font-size="8.2" fill="#000" stroke="#000" stroke-width="0.16" text-anchor="middle" font-weight="normal" >I</text>
<rect x="589.83" y="303.20" width="17.10" height="9.10" fill="#bfbfbf"/>
<rect x="589.38" y="312.05" width="18.00" height="14.65" fill="#000"/>
<text x="598.38" y="310.15" transform="rotate(0.05,598.38,310.15)" font-size="5.6" fill="#404040" stroke="#404040" stroke-width="0.15" text-anchor="middle" font-weight="normal" >39%</text>
<text x="598.38" y="321.80" transform="rotate(0.05,598.38,321.80)" font-size="5.6" fill="#fff" stroke="#fff" stroke-width="0.1" text-anchor="middle" font-weight="bold" >61%</text>
<text x="598.40" y="334.80" transform="rotate(0.05,598.40,334.80)" font-size="8.2" fill="#000" stroke="#000" stroke-width="0.16" text-anchor="middle" font-weight="normal" >U</text>
<text x="579.30" y="345.60" transform="rotate(0.05,579.30,345.60)" font-size="7.3" fill="#000" stroke="#000" stroke-width="0.16" text-anchor="middle" font-weight="normal" >30bp</text>
<rect x="628.30" y="247.10" width="17.10" height="38.80" fill="#bfbfbf"/>
<rect x="627.85" y="285.65" width="18.00" height="41.05" fill="#000"/>
<text x="636.85" y="268.90" transform="rotate(0.05,636.85,268.90)" font-size="5.6" fill="#404040" stroke="#404040" stroke-width="0.15" text-anchor="middle" font-weight="normal" >49%</text>
<text x="636.85" y="308.60" transform="rotate(0.05,636.85,308.60)" font-size="5.6" fill="#fff" stroke="#fff" stroke-width="0.1" text-anchor="middle" font-weight="bold" >51%</text>
<text x="637.12" y="334.80" transform="rotate(0.05,637.12,334.80)" font-size="8.2" fill="#000" stroke="#000" stroke-width="0.16" text-anchor="middle" font-weight="normal" >G</text>
<rect x="647.53" y="307.00" width="17.10" height="10.80" fill="#bfbfbf"/>
<rect x="647.08" y="317.55" width="18.00" height="9.15" fill="#000"/>
<text x="656.08" y="314.80" transform="rotate(0.05,656.08,314.80)" font-size="5.6" fill="#404040" stroke="#404040" stroke-width="0.15" text-anchor="middle" font-weight="normal" >57%</text>
<text x="656.08" y="324.55" transform="rotate(0.05,656.08,324.55)" font-size="5.6" fill="#fff" stroke="#fff" stroke-width="0.1" text-anchor="middle" font-weight="bold" >43%</text>
<text x="656.48" y="334.80" transform="rotate(0.05,656.48,334.80)" font-size="8.2" fill="#000" stroke="#000" stroke-width="0.16" text-anchor="middle" font-weight="normal" >I</text>
<rect x="666.77" y="301.00" width="17.10" height="10.50" fill="#bfbfbf"/>
<rect x="666.32" y="311.25" width="18.00" height="15.45" fill="#000"/>
<text x="675.32" y="308.65" transform="rotate(0.05,675.32,308.65)" font-size="5.6" fill="#404040" stroke="#404040" stroke-width="0.15" text-anchor="middle" font-weight="normal" >41%</text>
<text x="675.32" y="321.40" transform="rotate(0.05,675.32,321.40)" font-size="5.6" fill="#fff" stroke="#fff" stroke-width="0.1" text-anchor="middle" font-weight="bold" >59%</text>
<text x="675.84" y="334.80" transform="rotate(0.05,675.84,334.80)" font-size="8.2" fill="#000" stroke="#000" stroke-width="0.16" text-anchor="middle" font-weight="normal" >U</text>
<text x="656.75" y="344.90" transform="rotate(0.05,656.75,344.90)" font-size="7.3" fill="#000" stroke="#000" stroke-width="0.16" text-anchor="middle" font-weight="normal" >40bp</text>
<text x="355.60" y="334.60" transform="rotate(0.05,355.60,334.60)" font-size="7.4" fill="#000" stroke="#000" stroke-width="0.16" text-anchor="start" font-weight="normal" >Cohort</text>
<text x="355.60" y="344.90" transform="rotate(0.05,355.60,344.90)" font-size="7.4" fill="#000" stroke="#000" stroke-width="0.16" text-anchor="start" font-weight="normal" >Range</text>
</svg>
</body></html>
